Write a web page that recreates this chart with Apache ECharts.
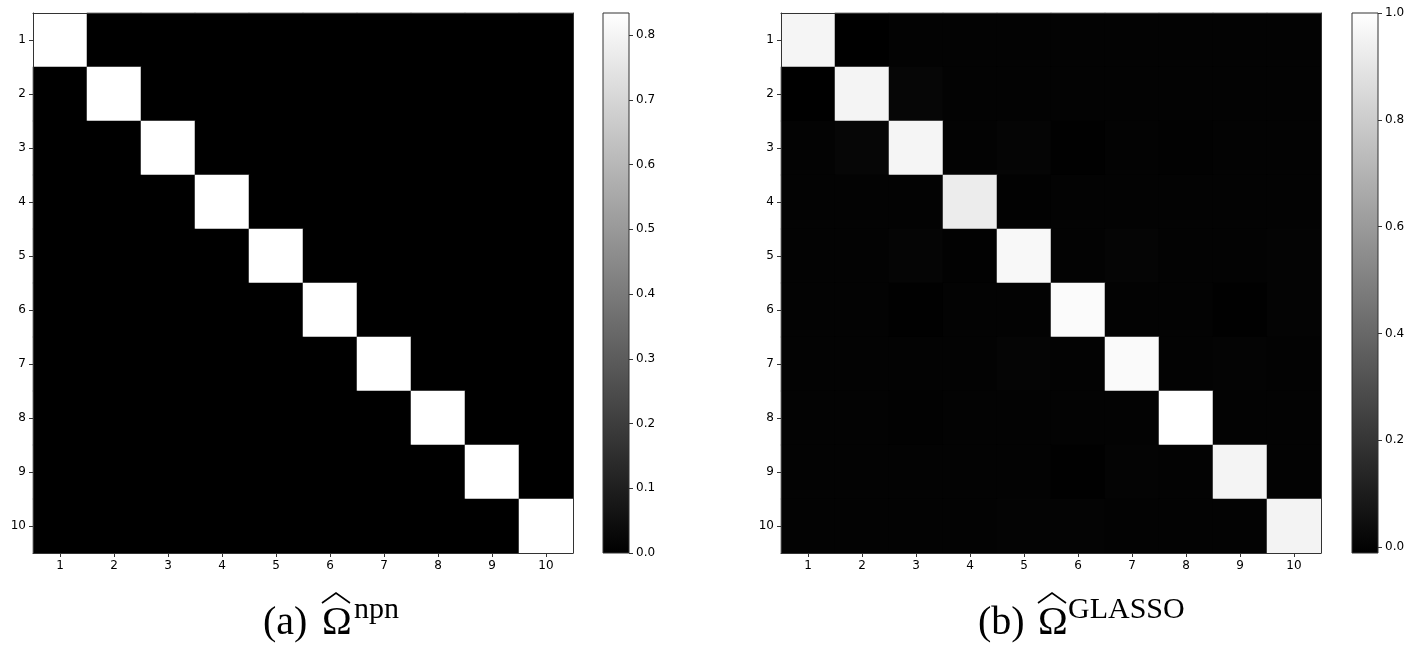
<!DOCTYPE html>
<html>
<head>
<meta charset="utf-8">
<script src="https://cdn.jsdelivr.net/npm/echarts@6/dist/echarts.min.js"></script>
<style>
html,body{margin:0;padding:0;background:#fff;}
#chart{width:1418px;height:647px;}
</style>
</head>
<body>
<div id="chart"></div>
<script>
// ---- data ----
const labels = ['1','2','3','4','5','6','7','8','9','10'];
// (a) nonparanormal estimate: diagonal values, off-diagonals zero
const npnDiag = [0.834,0.834,0.834,0.834,0.834,0.834,0.834,0.834,0.834,0.834];
const npnRange = [0.0, 0.834];
const npnTicks = [0.0,0.1,0.2,0.3,0.4,0.5,0.6,0.7,0.8];
// (b) GLASSO estimate
const glassoDiag = [0.960,0.957,0.960,0.925,0.972,0.985,0.980,1.000,0.957,0.953];
// symmetric off-diagonal entries [row, col, value] (1-based); all others 0
const glassoOff = [
  [1,2,-0.011],[2,3,0.012],[3,5,0.008],[3,6,-0.007],[5,7,0.010],
  [3,8,-0.005],[6,9,-0.006],[5,10,0.004],[4,5,-0.004],[7,9,0.003],[6,10,0.003]
];
const glassoRange = [-0.011, 1.0];
const glassoTicks = [0.0,0.2,0.4,0.6,0.8,1.0];

// ---- build matrices ----
function buildData(diag, off){
  const n = diag.length;
  const m = [];
  for(let i=0;i<n;i++){ m.push(new Array(n).fill(0)); m[i][i]=diag[i]; }
  off.forEach(([r,c,v])=>{ m[r-1][c-1]=v; m[c-1][r-1]=v; });
  const out=[];
  for(let i=0;i<n;i++) for(let j=0;j<n;j++) out.push([j,i,m[i][j]]);
  return out;
}
const npnData = buildData(npnDiag, []);
const glassoData = buildData(glassoDiag, glassoOff);

const chart = echarts.init(document.getElementById('chart'), null, {renderer:'canvas'});
const FONT = 'DejaVu Sans';
const lineCol = '#333';

function heatAxesX(grid, pos, show){
  return {
    gridIndex: grid, type:'category', data: labels, position: pos, z: 10,
    axisLine:{show:true, onZero:false, lineStyle:{color:lineCol, width:1}},
    axisTick:{show:show, alignWithLabel:true, length:4, inside:false, lineStyle:{color:lineCol, width:1}},
    axisLabel:{show:show, color:'#000', fontSize:12, fontFamily:FONT, margin:7, interval:0},
    splitLine:{show:false}, splitArea:{show:false}
  };
}
function heatAxesY(grid, pos, show){
  return {
    gridIndex: grid, type:'category', data: labels, position: pos, inverse:true, z: 10,
    axisLine:{show:true, onZero:false, lineStyle:{color:lineCol, width:1}},
    axisTick:{show:show, alignWithLabel:true, length:4, lineStyle:{color:lineCol, width:1}},
    axisLabel:{show:show, color:'#000', fontSize:12, fontFamily:FONT, margin:7, interval:0},
    splitLine:{show:false}, splitArea:{show:false}
  };
}
function cbarX(grid){
  return {gridIndex:grid, type:'value', min:0, max:1, show:false};
}
function cbarY(grid, range, ticks){
  return {
    gridIndex:grid, type:'value', position:'right', min:range[0], max:range[1], z:10,
    axisLine:{show:false, onZero:false},
    axisTick:{show:true, inside:false, length:4, customValues:ticks, lineStyle:{color:lineCol, width:1}},
    axisLabel:{show:true, customValues:ticks, color:'#000', fontSize:12, fontFamily:FONT, margin:7,
      formatter:(v)=>Number(v).toFixed(1)},
    splitLine:{show:false}
  };
}
function cbarSeries(xi, yi, range){
  return {
    type:'custom', xAxisIndex:xi, yAxisIndex:yi, silent:true,
    data:[[0, range[0], range[1]]],
    renderItem:function(params, api){
      const p0 = api.coord([0, api.value(2)]);
      const p1 = api.coord([1, api.value(1)]);
      return {
        type:'rect',
        shape:{x:p0[0], y:p0[1], width:p1[0]-p0[0], height:p1[1]-p0[1]},
        style:{
          fill:new echarts.graphic.LinearGradient(0,0,0,1,[{offset:0,color:'#ffffff'},{offset:1,color:'#000000'}]),
          stroke:'#333', lineWidth:1
        }
      };
    }
  };
}

const serif = '"Liberation Serif", "DejaVu Serif", serif';
function caption(letterX, omegaX, supX, letter, sup){
  return [
    {type:'text', silent:true, style:{x:letterX, y:623, text:letter, font:'40px '+serif, fill:'#000', textAlign:'left', textVerticalAlign:'middle', align:'left', verticalAlign:'middle'}},
    {type:'text', silent:true, style:{x:omegaX, y:623, text:'\u03A9', font:'40px '+serif, fill:'#000', textAlign:'left', textVerticalAlign:'middle', align:'left', verticalAlign:'middle'}},
    {type:'polyline', silent:true, shape:{points:[[omegaX,603],[omegaX+14,593],[omegaX+28,603]]}, style:{stroke:'#000', lineWidth:1.6, fill:null}},
    {type:'text', silent:true, style:{x:supX, y:610, text:sup, font:'30px '+serif, fill:'#000', textAlign:'left', textVerticalAlign:'middle', align:'left', verticalAlign:'middle'}}
  ];
}

const option = {
  animation:false,
  backgroundColor:'#fff',
  grid:[
    {left:33, top:13, width:540, height:540},
    {left:603, top:13, width:26, height:540},
    {left:781, top:13, width:540, height:540},
    {left:1352, top:13, width:26, height:540}
  ],
  xAxis:[
    heatAxesX(0,'bottom',true), heatAxesX(0,'top',false), cbarX(1),
    heatAxesX(2,'bottom',true), heatAxesX(2,'top',false), cbarX(3)
  ],
  yAxis:[
    heatAxesY(0,'left',true), heatAxesY(0,'right',false), cbarY(1,npnRange,npnTicks),
    heatAxesY(2,'left',true), heatAxesY(2,'right',false), cbarY(3,glassoRange,glassoTicks)
  ],
  visualMap:[
    {type:'continuous', show:false, seriesIndex:0, min:npnRange[0], max:npnRange[1], inRange:{color:['#000000','#ffffff']}},
    {type:'continuous', show:false, seriesIndex:2, min:glassoRange[0], max:glassoRange[1], inRange:{color:['#000000','#ffffff']}}
  ],
  series:[
    {type:'heatmap', xAxisIndex:0, yAxisIndex:0, data:npnData, emphasis:{disabled:true}, itemStyle:{borderWidth:0}},
    cbarSeries(2,2,npnRange),
    {type:'heatmap', xAxisIndex:3, yAxisIndex:3, data:glassoData, emphasis:{disabled:true}, itemStyle:{borderWidth:0}},
    cbarSeries(5,5,glassoRange)
  ],
  graphic:[].concat(
    caption(263, 322, 354, '(a)', 'npn'),
    caption(978, 1038, 1068, '(b)', 'GLASSO')
  )
};
chart.setOption(option);
</script>
</body>
</html>
